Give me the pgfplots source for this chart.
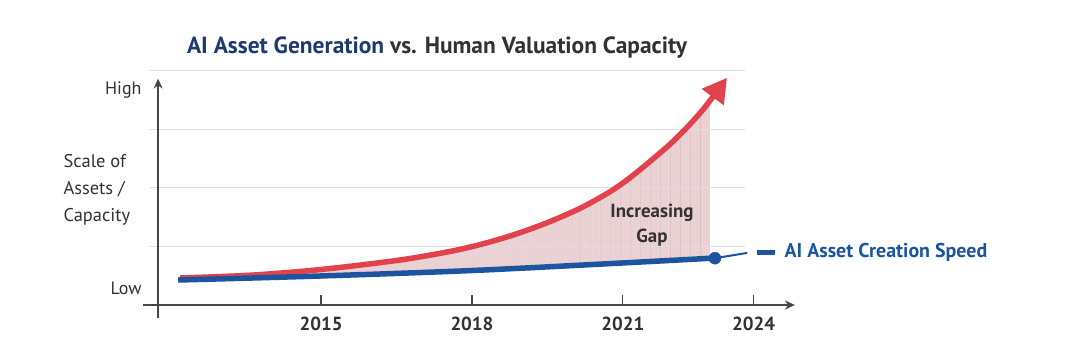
\documentclass[border=0pt]{standalone}
\usepackage{fontspec}
\setmainfont{PT Sans}
\usepackage{pgfplots}
\pgfplotsset{compat=1.18}
\usepgfplotslibrary{fillbetween}
\usetikzlibrary{arrows.meta,patterns.meta}
\definecolor{redline}{RGB}{226,66,76}
\definecolor{blueline}{RGB}{28,84,160}
\definecolor{titleblue}{RGB}{28,58,110}
\definecolor{txt}{RGB}{50,50,50}
\definecolor{gapfill}{RGB}{232,204,207}
\definecolor{gapstripe}{RGB}{216,180,185}
\definecolor{gridc}{RGB}{222,222,222}
\definecolor{axisc}{RGB}{70,70,70}
\pgfplotstableread{
x y
2012.20 0.462
2013.59 0.509
2015.00 0.607
2016.57 0.769
2017.56 0.915
2018.16 1.032
2018.82 1.197
2019.49 1.405
2020.15 1.653
2020.75 1.940
2021.20 2.215
2021.88 2.704
2022.24 3.005
2022.54 3.287
2022.73 3.492
2023.07 3.884
}\redtable
\pgfplotstableread{
x y
2012.16 0.427
2015.00 0.496
2018.02 0.590
2020.98 0.718
2022.83 0.803
}\bluetable
\begin{document}
\begin{tikzpicture}
\path (0bp,0bp) rectangle (1080bp,364bp);
\begin{axis}[
  at={(143bp,59bp)}, anchor=south west,
  scale only axis, width=651.9bp, height=234bp,
  xmin=2011.46, xmax=2024.42, ymin=0, ymax=4,
  axis line style={draw=none},
  xtick={2015,2018,2021,2023.6}, xticklabels={2015,2018,2021,2024},
  xtick pos=bottom, tick align=inside, major tick length=10bp,
  xtick style={axisc, line width=1.2bp},
  ytick=\empty,
  x tick label style={font=\bfseries\fontsize{19}{21}\selectfont, text=txt, yshift=-8bp},
  clip=false,
]
% grid lines
\draw[gridc, line width=1bp] (axis cs:2011.6,1) -- (axis cs:2023.43,1);
\draw[gridc, line width=1bp] (axis cs:2011.6,2) -- (axis cs:2023.43,2);
\draw[gridc, line width=1bp] (axis cs:2011.6,3) -- (axis cs:2023.43,3);
\draw[gridc, line width=1bp] (axis cs:2011.6,4) -- (axis cs:2023.43,4);
% axes
\draw[axisc, line width=1.6bp, -{Stealth[length=10bp,width=9bp]}] (axis cs:2011.46,0) -- (axis cs:2024.42,0);
\draw[axisc, line width=1.6bp, -{Stealth[length=10bp,width=9bp]}] (axis cs:2011.76,-0.22) -- (axis cs:2011.76,3.87);
% paths
\addplot[name path=red, draw=none] table {\redtable};
\addplot[name path=blue, draw=none] table {\bluetable};
\addplot[fill=gapfill, opacity=0.9] fill between[of=red and blue, soft clip={domain=2012.2:2022.73}];
\addplot[pattern={Lines[angle=90,distance=10bp,line width=0.6bp]}, pattern color=gapstripe] fill between[of=red and blue, soft clip={domain=2012.2:2022.73}];
% visible lines
\addplot[redline, line width=5.5bp, smooth, -{Triangle[length=24bp,width=26bp]}] table {\redtable};
\addplot[blueline, line width=5.5bp, smooth] table {\bluetable};
\addplot[blueline, line width=2bp] coordinates {(2022.83,0.80) (2023.47,0.89)};
\addplot[blueline, line width=5bp] coordinates {(2023.67,0.90) (2024.03,0.90)};
\addplot[only marks, mark=*, mark size=6bp, blueline] coordinates {(2022.83,0.80)};
\end{axis}
% texts
\node[font=\bfseries\fontsize{23.5}{25}\selectfont] at (437bp,316bp) {\textcolor{titleblue}{AI Asset Generation} \textcolor{txt}{vs. Human Valuation Capacity}};
\node[anchor=east, font=\fontsize{18}{20}\selectfont, text=txt] at (145bp,274bp) {High};
\node[anchor=east, font=\fontsize{18}{20}\selectfont, text=txt] at (145bp,76bp) {Low};
\node[anchor=west, align=left, font=\fontsize{18.5}{27}\selectfont, text=txt] at (60bp,174bp) {Scale of\\Assets /\\Capacity};
\node[align=center, font=\bfseries\fontsize{19}{24.5}\selectfont, text=txt] at (652bp,139bp) {Increasing\\Gap};
\node[anchor=west, font=\bfseries\fontsize{20}{22}\selectfont, text=blueline] at (781bp,112bp) {AI Asset Creation Speed};
\end{tikzpicture}
\end{document}
